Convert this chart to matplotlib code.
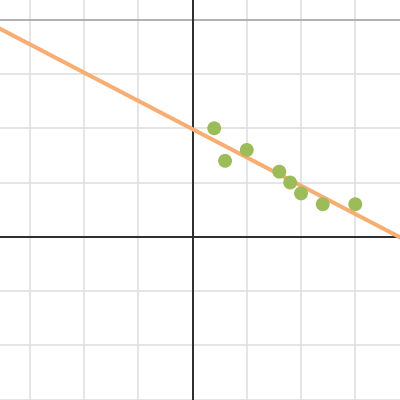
import matplotlib
matplotlib.use("Agg")
import matplotlib.pyplot as plt
import numpy as np

# data points
xs = [2, 3, 5, 8, 9, 10, 12, 15]
ys = [10, 7, 8, 6, 5, 4, 3, 3]

grid_x = [-15, -10, -5, 5, 10, 15]
grid_y = [-15, -10, -5, 5, 10, 15]
top_line = 20

fig = plt.figure(figsize=(4, 4), dpi=100)
ax = fig.add_axes([0, 0, 1, 1])
ax.set_xlim(-17.74, 19.12)
ax.set_ylim(-15.04, 21.82)
ax.axis('off')

for gx in grid_x:
    ax.axvline(gx, color='#e0e0e0', lw=1.2, zorder=1)
for gy in grid_y:
    ax.axhline(gy, color='#e0e0e0', lw=1.2, zorder=1)
ax.axhline(top_line, color='#a3a3a3', lw=1.2, zorder=1)

# axes
ax.axhline(0, color='#2b2b2b', lw=1.4, zorder=2)
ax.axvline(0, color='#2b2b2b', lw=1.4, zorder=2)

# best fit line
m, b = np.polyfit(xs, ys, 1)
lx = np.array([-20, 22])
ax.plot(lx, m * lx + b, color='#f8ad72', lw=2.9, zorder=3, solid_capstyle='butt')

ax.scatter(xs, ys, s=100, color='#9bbc59', edgecolors='none', zorder=4)

fig.savefig('out.png', dpi=100)
